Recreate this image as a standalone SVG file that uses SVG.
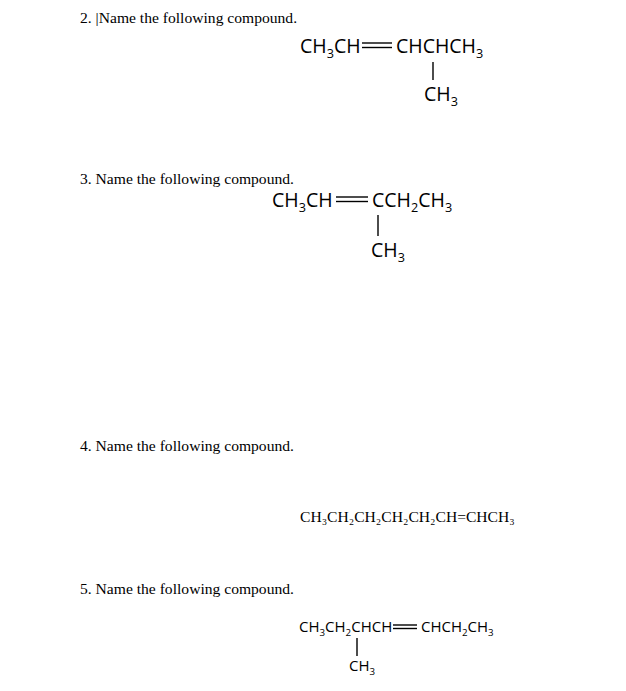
<svg xmlns="http://www.w3.org/2000/svg" width="626" height="691" viewBox="0 0 626 691">
<style>
.q{font-family:"Liberation Serif",serif;font-size:15.6px;fill:#000}
.s{font-family:"Open Sans","Liberation Sans",sans-serif;fill:#000}
.b{font-size:19.5px}
.m{font-size:15px}
.sub{font-size:65%}
line{stroke:#000;stroke-width:1.4}
</style>
<rect width="626" height="691" fill="#fff"/>
<g id="q2"><text class="q" x="80" y="23">2. |Name the following compound.</text></g>
<g id="m1" class="s b">
<text x="300" y="53">CH<tspan class="sub" dy="5">3</tspan><tspan dy="-5">CH</tspan></text>
<text x="396" y="53">CHCHCH<tspan class="sub" dy="5">3</tspan></text>
<text x="424" y="101">CH<tspan class="sub" dy="5">3</tspan></text>
</g>
<g id="q3"><text class="q" x="80" y="184">3. Name the following compound.</text></g>
<g id="m2" class="s b">
<text x="272" y="207">CH<tspan class="sub" dy="5">3</tspan><tspan dy="-5">CH</tspan></text>
<text x="372" y="207">CCH<tspan class="sub" dy="5">2</tspan><tspan dy="-5">CH</tspan><tspan class="sub" dy="5">3</tspan></text>
<text x="371" y="257">CH<tspan class="sub" dy="5">3</tspan></text>
</g>
<g id="q4"><text class="q" x="80" y="451">4. Name the following compound.</text></g>
<g id="m3"><text class="q" x="300" y="522">CH₃CH₂CH₂CH₂CH₂CH=CHCH₃</text></g>
<g id="q5"><text class="q" x="80" y="594">5. Name the following compound.</text></g>
<g id="m4" class="s m">
<text x="299" y="632">CH<tspan class="sub" dy="4">3</tspan><tspan dy="-4">CH</tspan><tspan class="sub" dy="4">2</tspan><tspan dy="-4">CHCH</tspan></text>
<text x="421" y="632">CHCH<tspan class="sub" dy="4">2</tspan><tspan dy="-4">CH</tspan><tspan class="sub" dy="4">3</tspan></text>
<text x="349" y="671">CH<tspan class="sub" dy="4">3</tspan></text>
</g>
<g id="connectors">
<line x1="362" y1="43" x2="392" y2="43"/><line x1="362" y1="47.5" x2="392" y2="47.5"/>
<line x1="433" y1="62" x2="433" y2="80"/>
<line x1="336" y1="197" x2="368" y2="197"/><line x1="336" y1="201.5" x2="368" y2="201.5"/>
<line x1="378" y1="215" x2="378" y2="236"/>
<line x1="393" y1="625" x2="417" y2="625"/><line x1="393" y1="628.5" x2="417" y2="628.5"/>
<line x1="357" y1="638" x2="357" y2="656"/>
</g>
</svg>
